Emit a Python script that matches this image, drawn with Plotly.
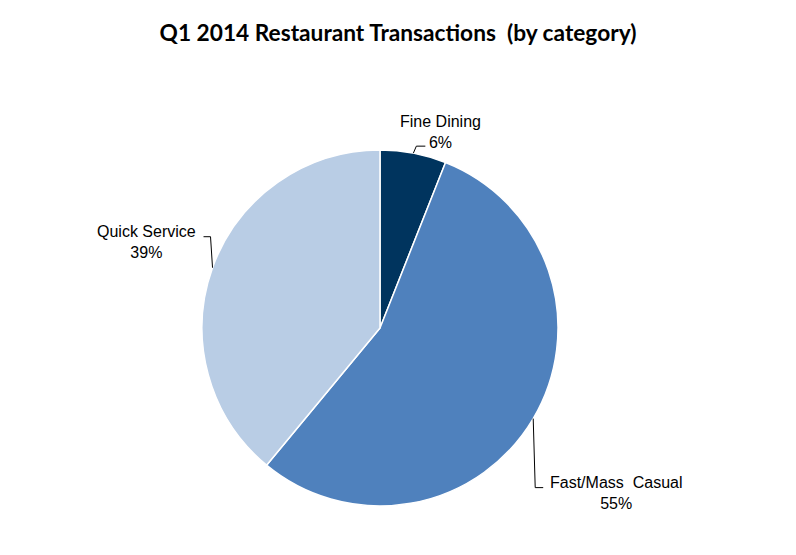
import math
import plotly.graph_objects as go

categories = ["Fine Dining", "Fast/Mass  Casual", "Quick Service"]
shares = [6, 55, 39]
colors = ["#00345E", "#4F81BD", "#B9CDE5"]

W, H = 796, 555
OFF = 8  # page body margin shifts the plot by 8px
cx, cy, r = 380 - OFF, 328 - OFF, 178

fig = go.Figure(go.Pie(
    labels=categories, values=shares, sort=False, direction="clockwise",
    rotation=0, textinfo="none", hoverinfo="label+percent",
    marker=dict(colors=colors, line=dict(color="white", width=1.5)),
    domain=dict(x=[(cx - r) / W, (cx + r) / W], y=[1 - (cy + r) / H, 1 - (cy - r) / H]),
    showlegend=False,
))

# per slice: elbow dx, elbow dy, horizontal run, label dx, label dy, anchor
leaders = [
    (3, -7, 9, 15, -14, "center"),
    (2, 69, 8, 5, 5, "left"),
    (-2, -31, -7, -6, 5, "right"),
]
total = sum(shares)
cum = 0
shapes, annots = [], []
for name, v, (ex, ey, hx, tx, ty, side) in zip(categories, shares, leaders):
    mid = (cum + v / 2) / total * 2 * math.pi
    cum += v
    px0 = cx + r * math.sin(mid)
    py0 = cy - r * math.cos(mid)
    px1, py1 = px0 + ex, py0 + ey
    px2 = px1 + hx
    path = "M {} {} L {} {} L {} {}".format(
        px0 / W, 1 - py0 / H, px1 / W, 1 - py1 / H, px2 / W, 1 - py1 / H)
    shapes.append(dict(type="path", xref="paper", yref="paper", path=path,
                       line=dict(color="black", width=1)))
    annots.append(dict(xref="paper", yref="paper", x=(px2 + tx) / W,
                       y=1 - (py1 + ty) / H, xanchor=side, yanchor="middle",
                       text="{}<br>{}%".format(name, v), showarrow=False, align="center",
                       font=dict(family="Liberation Sans, Arial", size=16, color="black")))

fig.update_layout(
    width=W, height=H,
    margin=dict(l=0, r=0, t=0, b=0),
    paper_bgcolor="white", plot_bgcolor="white",
    title=dict(text="<b>Q1 2014 Restaurant Transactions  (by category)</b>",
               x=(398 - OFF) / W, xanchor="center", y=1 - (33 - OFF) / H, yanchor="middle",
               font=dict(family="Lato", size=22.7, color="black")),
    shapes=shapes, annotations=annots,
)

fig.write_html("out.html")
